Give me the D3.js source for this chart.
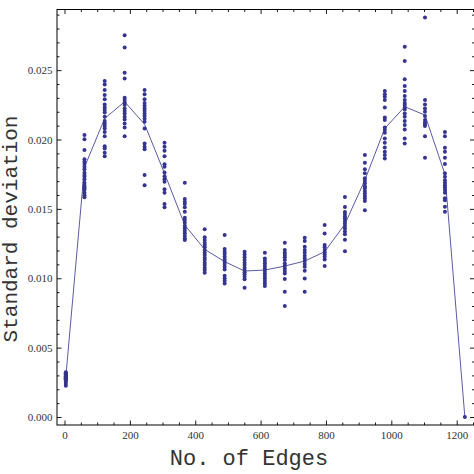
<!DOCTYPE html>
<html>
<head>
<meta charset="utf-8">
<script src="https://cdn.jsdelivr.net/npm/d3@7"></script>
<style>
  html, body { margin: 0; padding: 0; background: #fff; }
  svg { display: block; }
</style>
</head>
<body>
<svg id="chart" width="474" height="474"></svg>
<script>
// ---- data ----
const edges = [4, 61, 123, 184, 245, 306, 368, 429, 490, 551, 613, 674, 735, 796, 858, 919, 980, 1041, 1103, 1164, 1225];

const meanSD = [0.0029, 0.0180, 0.02152, 0.02272, 0.0211, 0.01756, 0.01383, 0.01208, 0.0112, 0.01052,
  0.01059, 0.01088, 0.01124, 0.01191, 0.0139, 0.01707, 0.0208, 0.02236, 0.02176, 0.0175, 0.0];

const samples = [
  [0.00322,0.00318,0.00314,0.00310,0.00306,0.00302,0.00298,0.00295,0.00292,0.00289,0.00286,0.00283,0.00280,0.00276,0.00272,0.00268,0.00262,0.00255,0.00240,0.00225],
  [0.02032,0.02001,0.01924,0.01857,0.01839,0.01823,0.01803,0.01785,0.01760,0.01744,0.01732,0.01713,0.01688,0.01672,0.01660,0.01648,0.01636,0.01617,0.01599,0.01583],
  [0.02421,0.02397,0.02356,0.02320,0.02291,0.02253,0.02231,0.02212,0.02195,0.02164,0.02133,0.02116,0.02097,0.02080,0.02055,0.02024,0.01952,0.01936,0.01904,0.01880],
  [0.02752,0.02664,0.02481,0.02440,0.02301,0.02284,0.02267,0.02248,0.02224,0.02205,0.02188,0.02164,0.02145,0.02116,0.02087,0.02024],
  [0.02356,0.02327,0.02291,0.02264,0.02243,0.02224,0.02207,0.02188,0.02169,0.02149,0.02128,0.02080,0.01972,0.01947,0.01929,0.01744,0.01671],
  [0.01976,0.01947,0.01919,0.01880,0.01821,0.01803,0.01763,0.01736,0.01713,0.01695,0.01641,0.01616,0.01535,0.01511],
  [0.01688,0.01571,0.01551,0.01535,0.01511,0.01479,0.01436,0.01419,0.01400,0.01378,0.01360,0.01343,0.01324,0.01304,0.01287,0.01275],
  [0.01354,0.01295,0.01275,0.01256,0.01239,0.01223,0.01203,0.01184,0.01167,0.01148,0.01131,0.01112,0.01095,0.01076,0.01059,0.01040],
  [0.01311,0.01210,0.01191,0.01174,0.01155,0.01136,0.01119,0.01102,0.01083,0.01064,0.01018,0.00999,0.00982,0.00963],
  [0.01191,0.01172,0.01151,0.01131,0.01112,0.01095,0.01076,0.01059,0.01043,0.01028,0.01011,0.00992,0.00932],
  [0.01184,0.01143,0.01124,0.01107,0.01088,0.01071,0.01052,0.01035,0.01016,0.00999,0.00980,0.00963,0.00944],
  [0.01256,0.01203,0.01184,0.01167,0.01151,0.01131,0.01107,0.01090,0.01071,0.01052,0.01035,0.00994,0.00903,0.00800],
  [0.01292,0.01268,0.01227,0.01203,0.01184,0.01162,0.01143,0.01124,0.01102,0.01083,0.01054,0.00999,0.00903],
  [0.01383,0.01323,0.01239,0.01223,0.01203,0.01187,0.01172,0.01155,0.01136,0.01088],
  [0.01585,0.01513,0.01477,0.01463,0.01445,0.01430,0.01412,0.01394,0.01376,0.01358,0.01337,0.01318,0.01277,0.01194],
  [0.01888,0.01832,0.01785,0.01756,0.01720,0.01703,0.01684,0.01664,0.01648,0.01628,0.01611,0.01592,0.01576,0.01556,0.01491],
  [0.02349,0.02327,0.02308,0.02284,0.02231,0.02159,0.02140,0.02087,0.02068,0.02048,0.02008,0.01976,0.01943,0.01911,0.01888,0.01864],
  [0.02668,0.02565,0.02435,0.02385,0.02349,0.02313,0.02284,0.02264,0.02248,0.02231,0.02217,0.02188,0.02164,0.02133,0.02104,0.02073,0.02008,0.01972],
  [0.02880,0.02284,0.02253,0.02224,0.02200,0.02169,0.02140,0.02123,0.02109,0.02097,0.02024,0.01868],
  [0.02055,0.02024,0.01940,0.01911,0.01868,0.01823,0.01756,0.01731,0.01707,0.01688,0.01671,0.01655,0.01636,0.01616,0.01576,0.01563,0.01515,0.01479],
  [0.0]
];

const xMajorTicks = [0, 200, 400, 600, 800, 1000, 1200];
const yMajorTicks = [0.000, 0.005, 0.010, 0.015, 0.020, 0.025];

const xTitle = "No. of Edges";
const yTitle = "Standard deviation";

// ---- layout ----
const frame = { left: 57, right: 474.5, top: 9.5, bottom: 425 };
const dotColor = "#35358f";
const lineColor = "#5b5ba6";

const svg = d3.select("#chart");

const x = d3.scaleLinear().domain([-23, 1254.5]).range([frame.left, frame.right]);
const y = d3.scaleLinear().domain([-0.000576, 0.02937]).range([frame.bottom, frame.top]);

const xMinor = d3.range(0, 1251, 50).filter(v => v % 200 !== 0);
const yMinor = d3.range(0, 30).map(i => i / 1000).filter(v => Math.round(v * 1000) % 5 !== 0);

function styleAxis(g) {
  g.select(".domain").remove();
  g.selectAll(".tick line").attr("stroke", "#000").attr("stroke-width", 0.9);
  g.selectAll(".tick text")
    .attr("fill", "#333")
    .style("font-family", "'Liberation Serif', 'Times New Roman', serif")
    .style("font-size", "11px");
}

// bottom
svg.append("g").attr("transform", `translate(0,${frame.bottom})`)
  .call(d3.axisBottom(x).tickValues(xMajorTicks).tickSize(-4.5).tickPadding(6).tickFormat(d3.format("d")))
  .call(styleAxis);
svg.append("g").attr("transform", `translate(0,${frame.bottom})`)
  .call(d3.axisBottom(x).tickValues(xMinor).tickSize(-2.5).tickFormat(""))
  .call(styleAxis);
// top
svg.append("g").attr("transform", `translate(0,${frame.top})`)
  .call(d3.axisTop(x).tickValues(xMajorTicks).tickSize(-4.5).tickFormat(""))
  .call(styleAxis);
svg.append("g").attr("transform", `translate(0,${frame.top})`)
  .call(d3.axisTop(x).tickValues(xMinor).tickSize(-2.5).tickFormat(""))
  .call(styleAxis);
// left
svg.append("g").attr("transform", `translate(${frame.left},0)`)
  .call(d3.axisLeft(y).tickValues(yMajorTicks).tickSize(-4.5).tickPadding(4.5).tickFormat(d3.format(".3f")))
  .call(styleAxis);
svg.append("g").attr("transform", `translate(${frame.left},0)`)
  .call(d3.axisLeft(y).tickValues(yMinor).tickSize(-2.5).tickFormat(""))
  .call(styleAxis);
// right
svg.append("g").attr("transform", `translate(${frame.right},0)`)
  .call(d3.axisRight(y).tickValues(yMajorTicks).tickSize(-4.5).tickFormat(""))
  .call(styleAxis);
svg.append("g").attr("transform", `translate(${frame.right},0)`)
  .call(d3.axisRight(y).tickValues(yMinor).tickSize(-2.5).tickFormat(""))
  .call(styleAxis);

// frame
svg.append("rect")
  .attr("x", frame.left).attr("y", frame.top)
  .attr("width", frame.right - frame.left).attr("height", frame.bottom - frame.top)
  .attr("fill", "none").attr("stroke", "#000").attr("stroke-width", 1);

// mean line
const line = d3.line().x((d, i) => x(edges[i])).y(d => y(d));
svg.append("path")
  .datum(meanSD)
  .attr("d", line)
  .attr("fill", "none")
  .attr("stroke", lineColor)
  .attr("stroke-width", 1);

// sample points
const pts = [];
samples.forEach((arr, i) => arr.forEach(v => pts.push({ e: edges[i], v })));
svg.append("g").selectAll("circle")
  .data(pts)
  .join("circle")
  .attr("cx", d => x(d.e))
  .attr("cy", d => y(d.v))
  .attr("r", 2)
  .attr("fill", dotColor);

// titles
svg.append("text")
  .attr("x", 249).attr("y", 465)
  .attr("text-anchor", "middle")
  .attr("fill", "#333")
  .style("font-family", "'Liberation Mono', 'Courier New', monospace")
  .style("font-size", "22px")
  .text(xTitle);

svg.append("text")
  .attr("transform", "translate(17,229) rotate(-90)")
  .attr("text-anchor", "middle")
  .attr("fill", "#333")
  .style("font-family", "'Liberation Mono', 'Courier New', monospace")
  .style("font-size", "21px")
  .text(yTitle);
</script>
</body>
</html>
